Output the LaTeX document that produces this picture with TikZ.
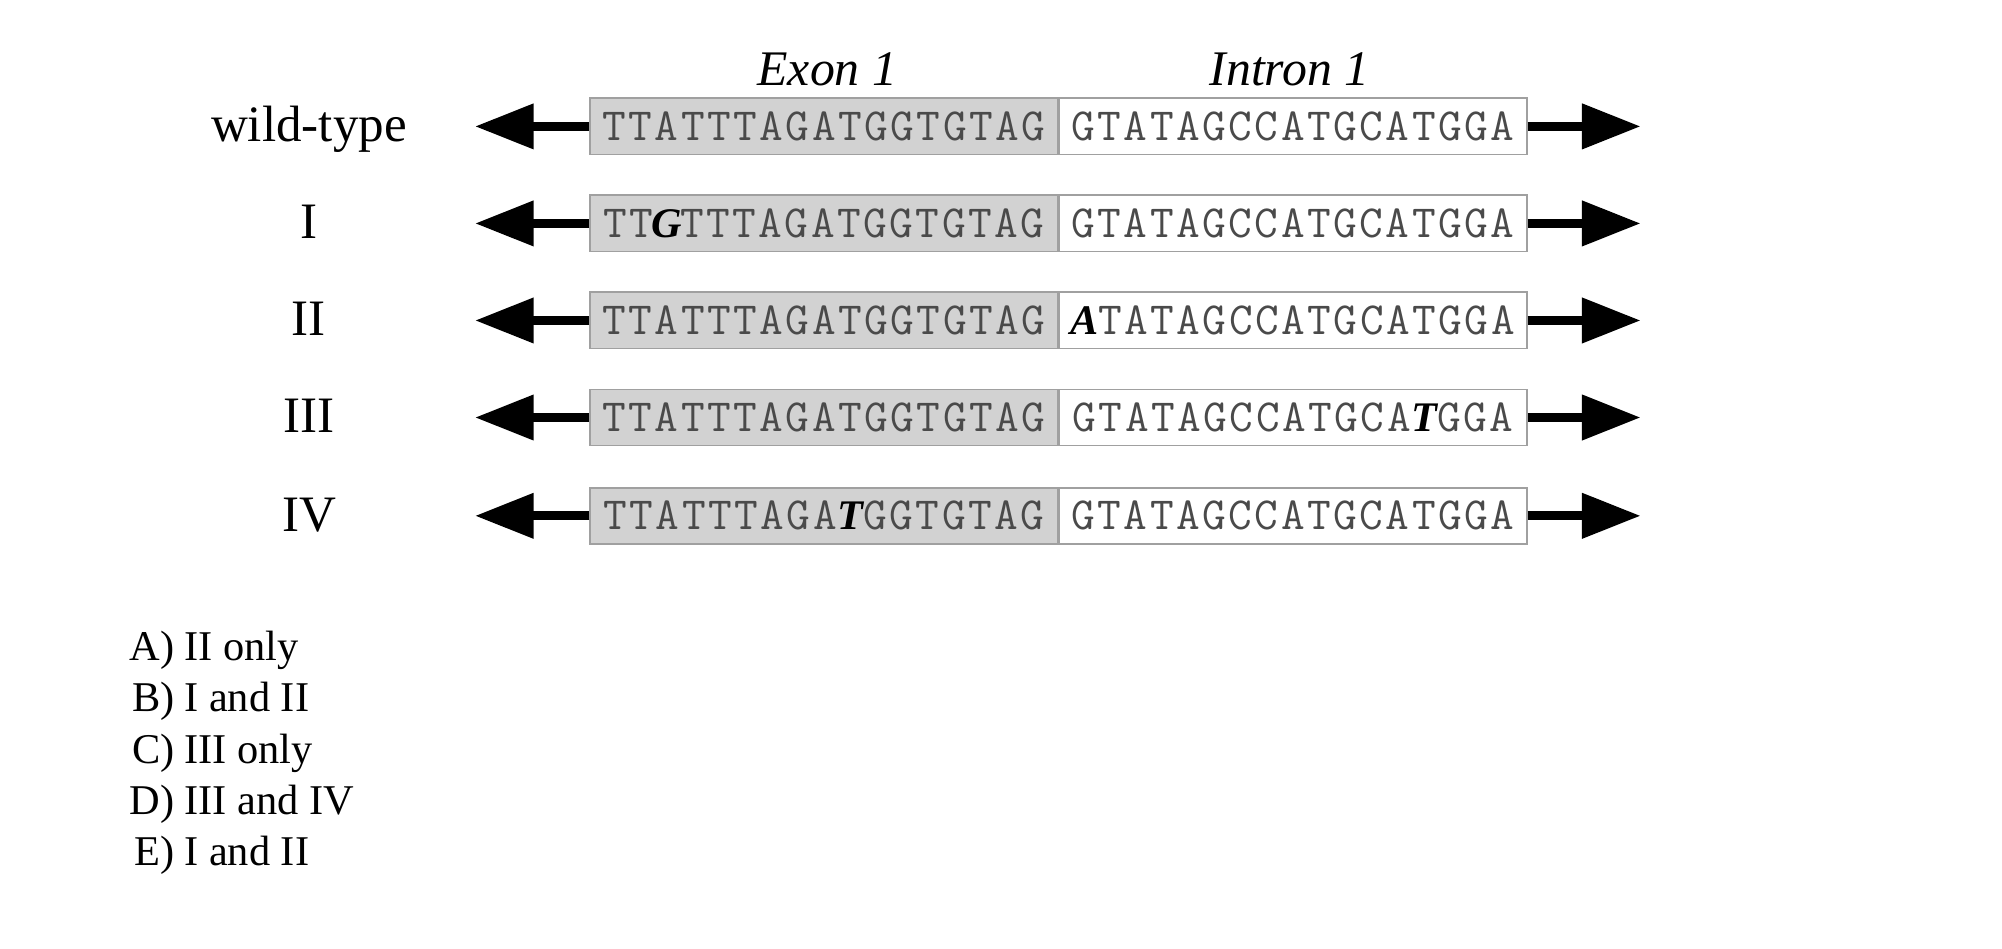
\documentclass[tikz,border=0pt]{standalone}
\usepackage{fontspec}
\setmainfont{Liberation Serif}
\newfontfamily\seqfont[LetterSpace=5.5]{Latin Modern Mono}
\usetikzlibrary{arrows.meta}
\definecolor{exonfill}{HTML}{D2D2D2}
\definecolor{boxline}{HTML}{A0A0A0}
\definecolor{seqgray}{HTML}{4A4A4A}
\newcommand{\mutbase}[1]{\makebox[0.58em][c]{\rmfamily\bfseries\itshape\fontsize{16.5}{20}\selectfont\color{black}#1}}
\begin{document}
\begin{tikzpicture}[x=0.5pt,y=-0.5pt,
  rowlabel/.style={font=\fontsize{20}{24}\selectfont, anchor=base, inner sep=0pt},
  header/.style={font=\itshape\fontsize{19.5}{24}\selectfont, anchor=base, inner sep=0pt},
  exonbox/.style={draw=boxline, fill=exonfill, line width=0.7pt, minimum width=183pt,
    minimum height=22pt, inner sep=0pt, anchor=east,
    font=\seqfont\fontsize{18}{22}\selectfont, text=seqgray},
  intronbox/.style={exonbox, fill=white, anchor=west},
  strand/.style={line width=3.6pt, -{Triangle[length=23pt,width=17pt]}},
  choiceletter/.style={font=\fontsize{16.6}{20}\selectfont, anchor=base east, inner sep=0pt},
  choicetext/.style={font=\fontsize{16.6}{20}\selectfont, anchor=base west, inner sep=0pt}]
\useasboundingbox (0,0) rectangle (1568,742.5);

% headers
\node[header] (exonlab) at (648,67) {Exon 1};
\node[header] (intronlab) at (1010,67) {Intron 1};

% row labels
\node[rowlabel] (lab0) at (242,111) {wild-type};
\node[rowlabel] (lab1) at (242,187) {I};
\node[rowlabel] (lab2) at (242,263) {II};
\node[rowlabel] (lab3) at (242,339) {III};
\node[rowlabel] (lab4) at (242,416) {IV};

% sequences
\node[exonbox] (e0) at (829,99) {TTATTTAGATGGTGTAG};
\node[intronbox] (i0) at (829,99) {GTATAGCCATGCATGGA};
\node[exonbox] (e1) at (829,175) {TT\mutbase{G}TTTAGATGGTGTAG};
\node[intronbox] (i1) at (829,175) {GTATAGCCATGCATGGA};
\node[exonbox] (e2) at (829,251) {TTATTTAGATGGTGTAG};
\node[intronbox] (i2) at (829,251) {\mutbase{A}TATAGCCATGCATGGA};
\node[exonbox] (e3) at (829,327) {TTATTTAGATGGTGTAG};
\node[intronbox] (i3) at (829,327) {GTATAGCCATGCA\mutbase{T}GGA};
\node[exonbox] (e4) at (829,404) {TTATTTAGA\mutbase{T}GGTGTAG};
\node[intronbox] (i4) at (829,404) {GTATAGCCATGCATGGA};

% arrows
\foreach \r/\y in {0/99,1/175,2/251,3/327,4/404}{
  \coordinate (l\r) at (372,\y);
  \coordinate (r\r) at (1285,\y);
  \draw[strand] (e\r.west) -- (l\r);
  \draw[strand] (i\r.east) -- (r\r);
}

% answer choices
\node[choiceletter] (ca) at (137,517) {A)};
\node[choicetext] (ta) at (144,517) {II only};
\node[choiceletter] (cb) at (137,557) {B)};
\node[choicetext] (tb) at (144,557) {I and II};
\node[choiceletter] (cc) at (137,598) {C)};
\node[choicetext] (tc) at (144,598) {III only};
\node[choiceletter] (cd) at (137,638) {D)};
\node[choicetext] (td) at (144,638) {III and IV};
\node[choiceletter] (ce) at (137,678) {E)};
\node[choicetext] (te) at (144,678) {I and II};
\end{tikzpicture}
\end{document}
